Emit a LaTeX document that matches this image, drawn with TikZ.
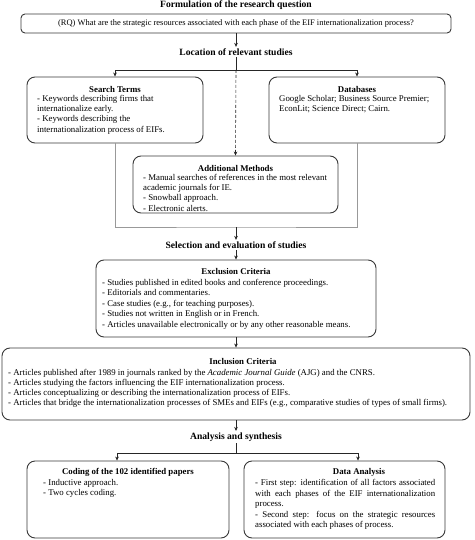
\documentclass[tikz,border=0pt]{standalone}
\usepackage{fontspec}
\setmainfont{Liberation Serif}
\usetikzlibrary{arrows.meta}
\begin{document}
\begin{tikzpicture}[x=1pt,y=-1pt,
  box/.style={draw=black!78, line width=0.9pt, rounded corners=8pt, inner sep=0pt},
  hdr/.style={font=\bfseries\fontsize{9.6}{11}\selectfont, inner sep=1.5pt},
  ttl/.style={font=\bfseries\fontsize{8.8}{10}\selectfont, inner sep=0pt},
  txt/.style={inner sep=0pt, anchor=north west, align=left, font=\fontsize{8.8}{10.3}\selectfont},
  conn/.style={line width=0.6pt, draw=black!85},
  arr/.style={conn, -{Stealth[length=4pt,width=3.6pt]}},
  grayline/.style={draw=black!40, line width=0.8pt}
]
\useasboundingbox (0,0) rectangle (474,540);

% --- Formulation
\node[hdr] (h1) at (236,5) {Formulation of the research question};
\node[box, rounded corners=4pt, minimum width=430pt, minimum height=19pt] (rq) at (236,23.5) {};
\node[txt, anchor=center, font=\fontsize{8.45}{9.5}\selectfont] (rqt) at (rq.center) {(RQ) What are the strategic resources associated with each phase of the EIF internationalization process?};

% --- Location
\node[hdr] (h2) at (236,52) {Location of relevant studies};
\draw[arr] (rq.south) -- (h2.north);

\node[box, minimum width=176pt, minimum height=66pt] (st) at (115,110) {};
\node[box, minimum width=176pt, minimum height=66pt] (db) at (357,110) {};
\node[box, minimum width=205pt, minimum height=57pt] (am) at (235.5,184.5) {};

\coordinate (j1) at (236,70);
\draw[conn] (h2.south) -- (j1);
\draw[arr] (j1) -| (st.north);
\draw[arr] (j1) -| (db.north);
\draw[arr, dash pattern=on 3pt off 2pt] (j1) -- (am.north);

\node[ttl] (stT) at (115,89) {Search Terms};
\node[txt] (stB) at (37,95) {- Keywords describing firms that\\internationalize early.\\- Keywords describing the\\internationalization process of EIFs.};

\node[ttl] (dbT) at (357,89) {Databases};
\node[txt] (dbB) at (279,95) {Google Scholar; Business Source Premier;\\EconLit; Science Direct; Cairn.};

\node[ttl] (amT) at (235.5,168) {Additional Methods};
\node[txt] (amB) at (143,174) {- Manual searches of references in the most relevant\\academic journals for IE.\\- Snowball approach.\\- Electronic alerts.};

\coordinate (gb) at (236,227);
\draw[grayline] (st.south) |- (gb) -| (db.south);

% --- Selection
\node[hdr] (h3) at (236,245) {Selection and evaluation of studies};
\draw[arr] (gb) -- (h3.north);

\node[box, minimum width=280pt, minimum height=77pt] (ex) at (236,298.5) {};
\draw[arr] (h3.south) -- (ex.north);
\node[ttl] (exT) at (236,271) {Exclusion Criteria};
\node[txt, font=\fontsize{8.8}{10.5}\selectfont] (exB) at (102,279) {- Studies published in edited books and conference proceedings.\\- Editorials and commentaries.\\- Case studies (e.g., for teaching purposes).\\- Studies not written in English or in French.\\- Articles unavailable electronically or by any other reasonable means.};

\node[box, minimum width=468pt, minimum height=72pt] (in) at (236,384) {};
\draw[arr] (ex.south) -- (in.north);
\node[ttl] (inT) at (243,361) {Inclusion Criteria};
\node[txt, font=\fontsize{8.8}{10}\selectfont] (inB) at (8,369) {- Articles published after 1989 in journals ranked by the \textit{Academic Journal Guide} (AJG) and the CNRS.\\- Articles studying the factors influencing the EIF internationalization process.\\- Articles conceptualizing or describing the internationalization process of EIFs.\\- Articles that bridge the internationalization processes of SMEs and EIFs (e.g., comparative studies of types of small firms).};

% --- Analysis
\node[hdr] (h4) at (236,437) {Analysis and synthesis};
\draw[arr] (in.south) -- (h4.north);

\node[box, minimum width=202pt, minimum height=77pt] (cod) at (128,499.5) {};
\node[box, minimum width=201pt, minimum height=77pt] (da) at (344.5,499.5) {};
\coordinate (j2) at (236,453);
\draw[conn] (h4.south) -- (j2);
\draw[arr] (j2) -| ([xshift=-11pt]cod.north);
\draw[arr] (j2) -| ([xshift=13.5pt]da.north);

\node[ttl] (codT) at (128,472) {Coding of the 102 identified papers};
\node[txt, font=\fontsize{8.8}{10}\selectfont] (codB) at (43,479) {- Inductive approach.\\- Two cycles coding.};

\node[ttl] (daT) at (359,472) {Data Analysis};
\node[inner sep=0pt, anchor=north west, font=\fontsize{8.8}{10.6}\selectfont] (daB) at (255,479) {\begin{minipage}[t]{180pt}\setlength{\parindent}{0pt}\setlength{\parfillskip}{0pt plus 1fil}- First step: identification of all factors associated\linebreak with each phases of the EIF internationalization\linebreak process.\par - Second step: focus on the strategic resources\linebreak associated with each phases of process.\end{minipage}};
\end{tikzpicture}
\end{document}
